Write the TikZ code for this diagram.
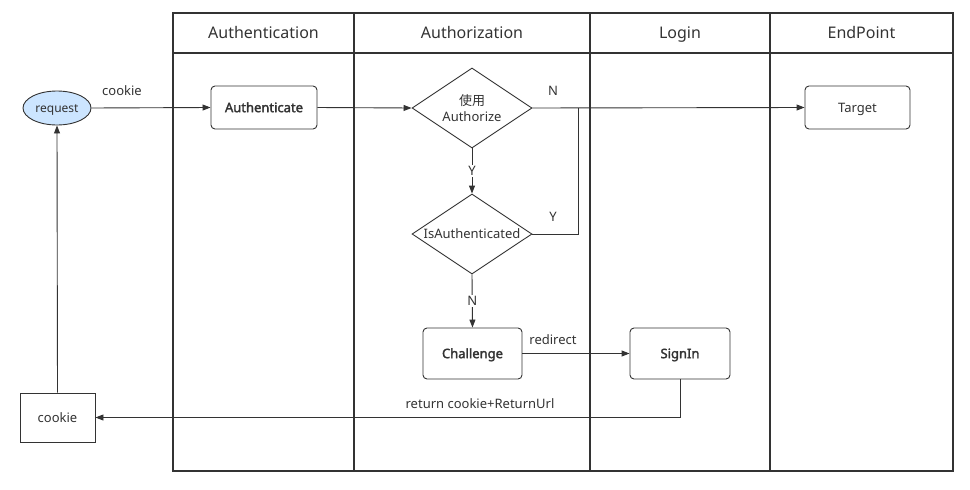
\documentclass[tikz,border=0pt]{standalone}
\usepackage{fontspec}
\setmainfont{Noto Sans}[BoldFont={Noto Sans},BoldFeatures={FakeBold=2.2}]
\newfontfamily\cjk{Noto Sans CJK SC}
\usetikzlibrary{shapes.geometric,arrows.meta}
\definecolor{ink}{HTML}{333333}
\definecolor{reqblue}{HTML}{CCE5FF}
\begin{document}
\begin{tikzpicture}[x=1pt,y=-1pt,
  every node/.style={text=ink,font=\fontsize{13}{16}\selectfont},
  cc/.style={text height=9.3pt,text depth=0pt},
  lane/.style={draw=ink,line width=2pt},
  conn/.style={draw=ink,line width=0.9pt},
  arr/.style={conn,-{Triangle[length=8pt,width=6pt]}},
  proc/.style={cc,draw=ink,line width=0.9pt,fill=white,rounded corners=4pt,minimum width=106pt,minimum height=43pt,inner sep=0pt,font=\fontsize{13}{16}\selectfont\bfseries},
  plainbox/.style={cc,draw=ink,line width=0.9pt,fill=white,rounded corners=4pt,minimum width=105pt,minimum height=43pt,inner sep=0pt},
  dec/.style={draw=ink,line width=0.9pt,fill=white,diamond,shape aspect=1.5,minimum width=120pt,minimum height=80pt,inner sep=0pt,align=center},
  hdr/.style={font=\fontsize{16}{19}\selectfont,text height=11.4pt,text depth=0pt},
  lbl/.style={cc,inner sep=1pt}
]
\useasboundingbox (0,0) rectangle (970,490);
% swimlanes
\draw[lane] (173,13) rectangle (953,471);
\draw[lane] (173,53) -- (953,53);
\foreach \xx in {354,590,770} \draw[lane] (\xx,13) -- (\xx,471);
\node[hdr] (h1) at (263.5,33) {Authentication};
\node[hdr] (h2) at (472,33) {Authorization};
\node[hdr] (h3) at (680,33) {Login};
\node[hdr] (h4) at (861.5,33) {EndPoint};
% nodes
\node[ellipse,draw=ink,line width=0.9pt,fill=reqblue,minimum width=68pt,minimum height=34pt,inner sep=0pt,font=\fontsize{12}{14}\selectfont,text height=8.6pt,text depth=0pt] (req) at (57,108) {request};
\node[proc] (auth) at (264,107.5) {Authenticate};
\node[dec] (d1) at (472,108) {{\cjk 使用}\\Authorize};
\node[plainbox] (target) at (857.5,107.5) {Target};
\node[dec,cc] (d2) at (472,234) {IsAuthenticated};
\node[proc,minimum width=99pt,minimum height=51pt] (chal) at (472.5,353.5) {Challenge};
\node[proc,minimum width=100pt,minimum height=51pt] (signin) at (680,353.5) {SignIn};
\node[cc,draw=ink,line width=0.9pt,fill=white,minimum width=75pt,minimum height=49pt,inner sep=0pt] (ck) at (57.5,417.5) {cookie};
\coordinate (j) at (578,108);
% connectors
\draw[arr] (req.east) -- (auth.west);
\draw[arr] (auth.east) -- (d1.west);
\draw[arr] (d1.east) -- (target.west);
\draw[arr] (d1.south) -- node[fill=white,lbl] (ly1) {Y} (d2.north);
\draw[conn] (d2.east) -| (j);
\draw[arr] (d2.south) -- node[fill=white,lbl] (ln2) {N} (chal.north);
\draw[arr] (chal.east) -- (signin.west);
\draw[arr] (signin.south) |- (ck.east);
\draw[arr] (ck.north) -- (req.south);
% labels
\node[cc] (lcookie) at (122,91) {cookie};
\node[cc] (ln1) at (553,91) {N};
\node[cc] (ly2) at (553,217) {Y};
\node[cc] (lred) at (553,340) {redirect};
\node[cc] (lret) at (480,404) {return cookie+ReturnUrl};
\end{tikzpicture}
\end{document}
